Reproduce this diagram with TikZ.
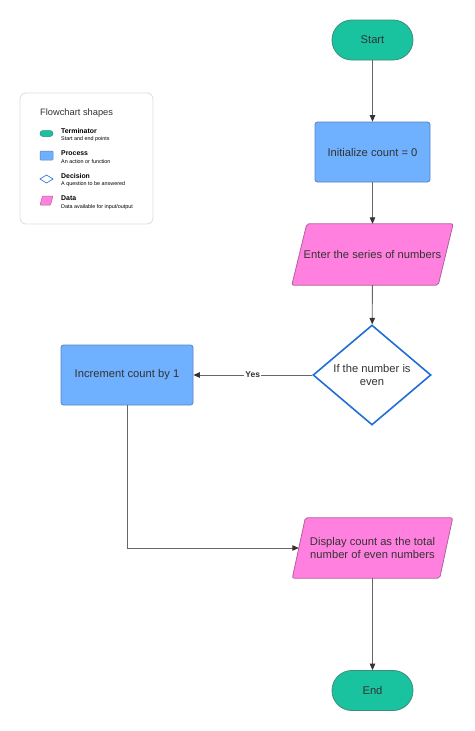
\documentclass[tikz,border=0pt]{standalone}
\usepackage{fontspec}
\setmainfont{Liberation Sans}
\usetikzlibrary{shapes.geometric,arrows.meta,backgrounds}
\definecolor{termfill}{HTML}{19C3A0}
\definecolor{termdraw}{HTML}{3F8C7A}
\definecolor{procfill}{HTML}{6FB0FF}
\definecolor{procdraw}{HTML}{5684C2}
\definecolor{datafill}{HTML}{FF80DE}
\definecolor{datadraw}{HTML}{B0609F}
\definecolor{decdraw}{HTML}{1F6FD6}
\definecolor{txt}{HTML}{333333}
\definecolor{linec}{HTML}{666666}
\definecolor{legdraw}{HTML}{DDDDDD}
\tikzset{
  mainfont/.style={font=\fontsize{11.2}{13.6}\selectfont, text=txt},
  term/.style={mainfont, shape=rectangle, rounded corners=19.9pt, fill=termfill, draw=termdraw, line width=0.8pt, minimum width=81pt, minimum height=40pt},
  proc/.style={mainfont, shape=rectangle, rounded corners=2.5pt, fill=procfill, draw=procdraw, line width=0.8pt, minimum height=60pt, align=center},
  datatext/.style={mainfont, shape=rectangle, draw=none, inner sep=0pt, align=center},
  datashape/.style={fill=datafill, draw=datadraw, line width=0.8pt, rounded corners=2pt},
  dec/.style={mainfont, shape=diamond, aspect=1.18, inner sep=0pt, draw=decdraw, line width=1.6pt, fill=white, minimum width=118pt, minimum height=100pt, align=center},
  conn/.style={draw=linec, line width=0.9pt, -{Triangle[length=6.5pt,width=5.5pt,color=txt]}},
  legtitle/.style={font=\fontsize{9.3}{11}\selectfont, text=txt, anchor=west, inner sep=0pt},
  leglabel/.style={font=\bfseries\fontsize{6.9}{8}\selectfont, text=black, anchor=west, inner sep=0pt},
  legsub/.style={font=\fontsize{5.4}{6}\selectfont, text=black, anchor=west, inner sep=0pt},
  yeslabel/.style={font=\bfseries\fontsize{8.5}{10}\selectfont, text=txt, fill=white, inner sep=1pt}
}
\begin{document}
\begin{tikzpicture}[x=1pt,y=-1pt]
\useasboundingbox (0,0) rectangle (474,731);
\begin{pgfonlayer}{background}
\fill[white] (0,0) rectangle (474,731);
\end{pgfonlayer}

% legend
\draw[legdraw, line width=0.8pt, rounded corners=6pt] (20,93) rectangle (153,224);
\node[legtitle] (lt) at (40,113) {Flowchart shapes};
\draw[fill=termfill, draw=termdraw, line width=0.5pt, rounded corners=3pt] (40,130.5) rectangle (53,136.5);
\node[leglabel] (l1) at (61,131) {Terminator};
\node[legsub] (s1) at (61,139.5) {Start and end points};
\draw[fill=procfill, draw=procdraw, line width=0.5pt, rounded corners=0.8pt] (40,151) rectangle (53,160);
\node[leglabel] (l2) at (61,153) {Process};
\node[legsub] (s2) at (61,161.5) {An action or function};
\draw[fill=white, draw=decdraw, line width=0.6pt] (46.5,175) -- (53,179) -- (46.5,183) -- (40,179) -- cycle;
\node[leglabel] (l3) at (61,176) {Decision};
\node[legsub] (s3) at (61,184.5) {A question to be answered};
\draw[fill=datafill, draw=datadraw, line width=0.5pt, rounded corners=0.8pt] (42.5,196) -- (53,196) -- (50.5,205) -- (40,205) -- cycle;
\node[leglabel] (l4) at (61,198) {Data};
\node[legsub] (s4) at (61,207) {Data available for input/output};

% main flow
\node[term] (start) at (372.5,40) {Start};
\node[proc, minimum width=115pt] (init) at (372.5,152) {Initialize count = 0};
\node[datatext, minimum width=146pt, minimum height=61pt] (enter) at (372.5,254.5) {Enter the series of numbers};
\node[dec] (dec) at (372,375) {If the number is\\even};
\node[proc, minimum width=132pt] (inc) at (127,375) {Increment count by 1};
\node[datatext, minimum width=147pt, minimum height=60pt] (disp) at (372.5,548) {Display count as the total\\number of even numbers};
\node[term] (end) at (372.5,690.5) {End};

\begin{pgfonlayer}{background}
\draw[datashape] ([xshift=7.5pt]enter.north west) -- ([xshift=7.5pt]enter.north east) -- ([xshift=-7.5pt]enter.south east) -- ([xshift=-7.5pt]enter.south west) -- cycle;
\draw[datashape] ([xshift=6.5pt]disp.north west) -- ([xshift=6.5pt]disp.north east) -- ([xshift=-6.5pt]disp.south east) -- ([xshift=-6.5pt]disp.south west) -- cycle;
\end{pgfonlayer}

\draw[conn] (start) -- (init);
\draw[conn] (init) -- (enter);
\draw[conn] (enter) -- (dec);
\draw[conn] (dec.west) -- node[yeslabel] (yes) {Yes} (inc.east);
\draw[conn] (inc.south) |- (disp.west);
\draw[conn] (disp) -- (end);
\end{tikzpicture}
\end{document}
